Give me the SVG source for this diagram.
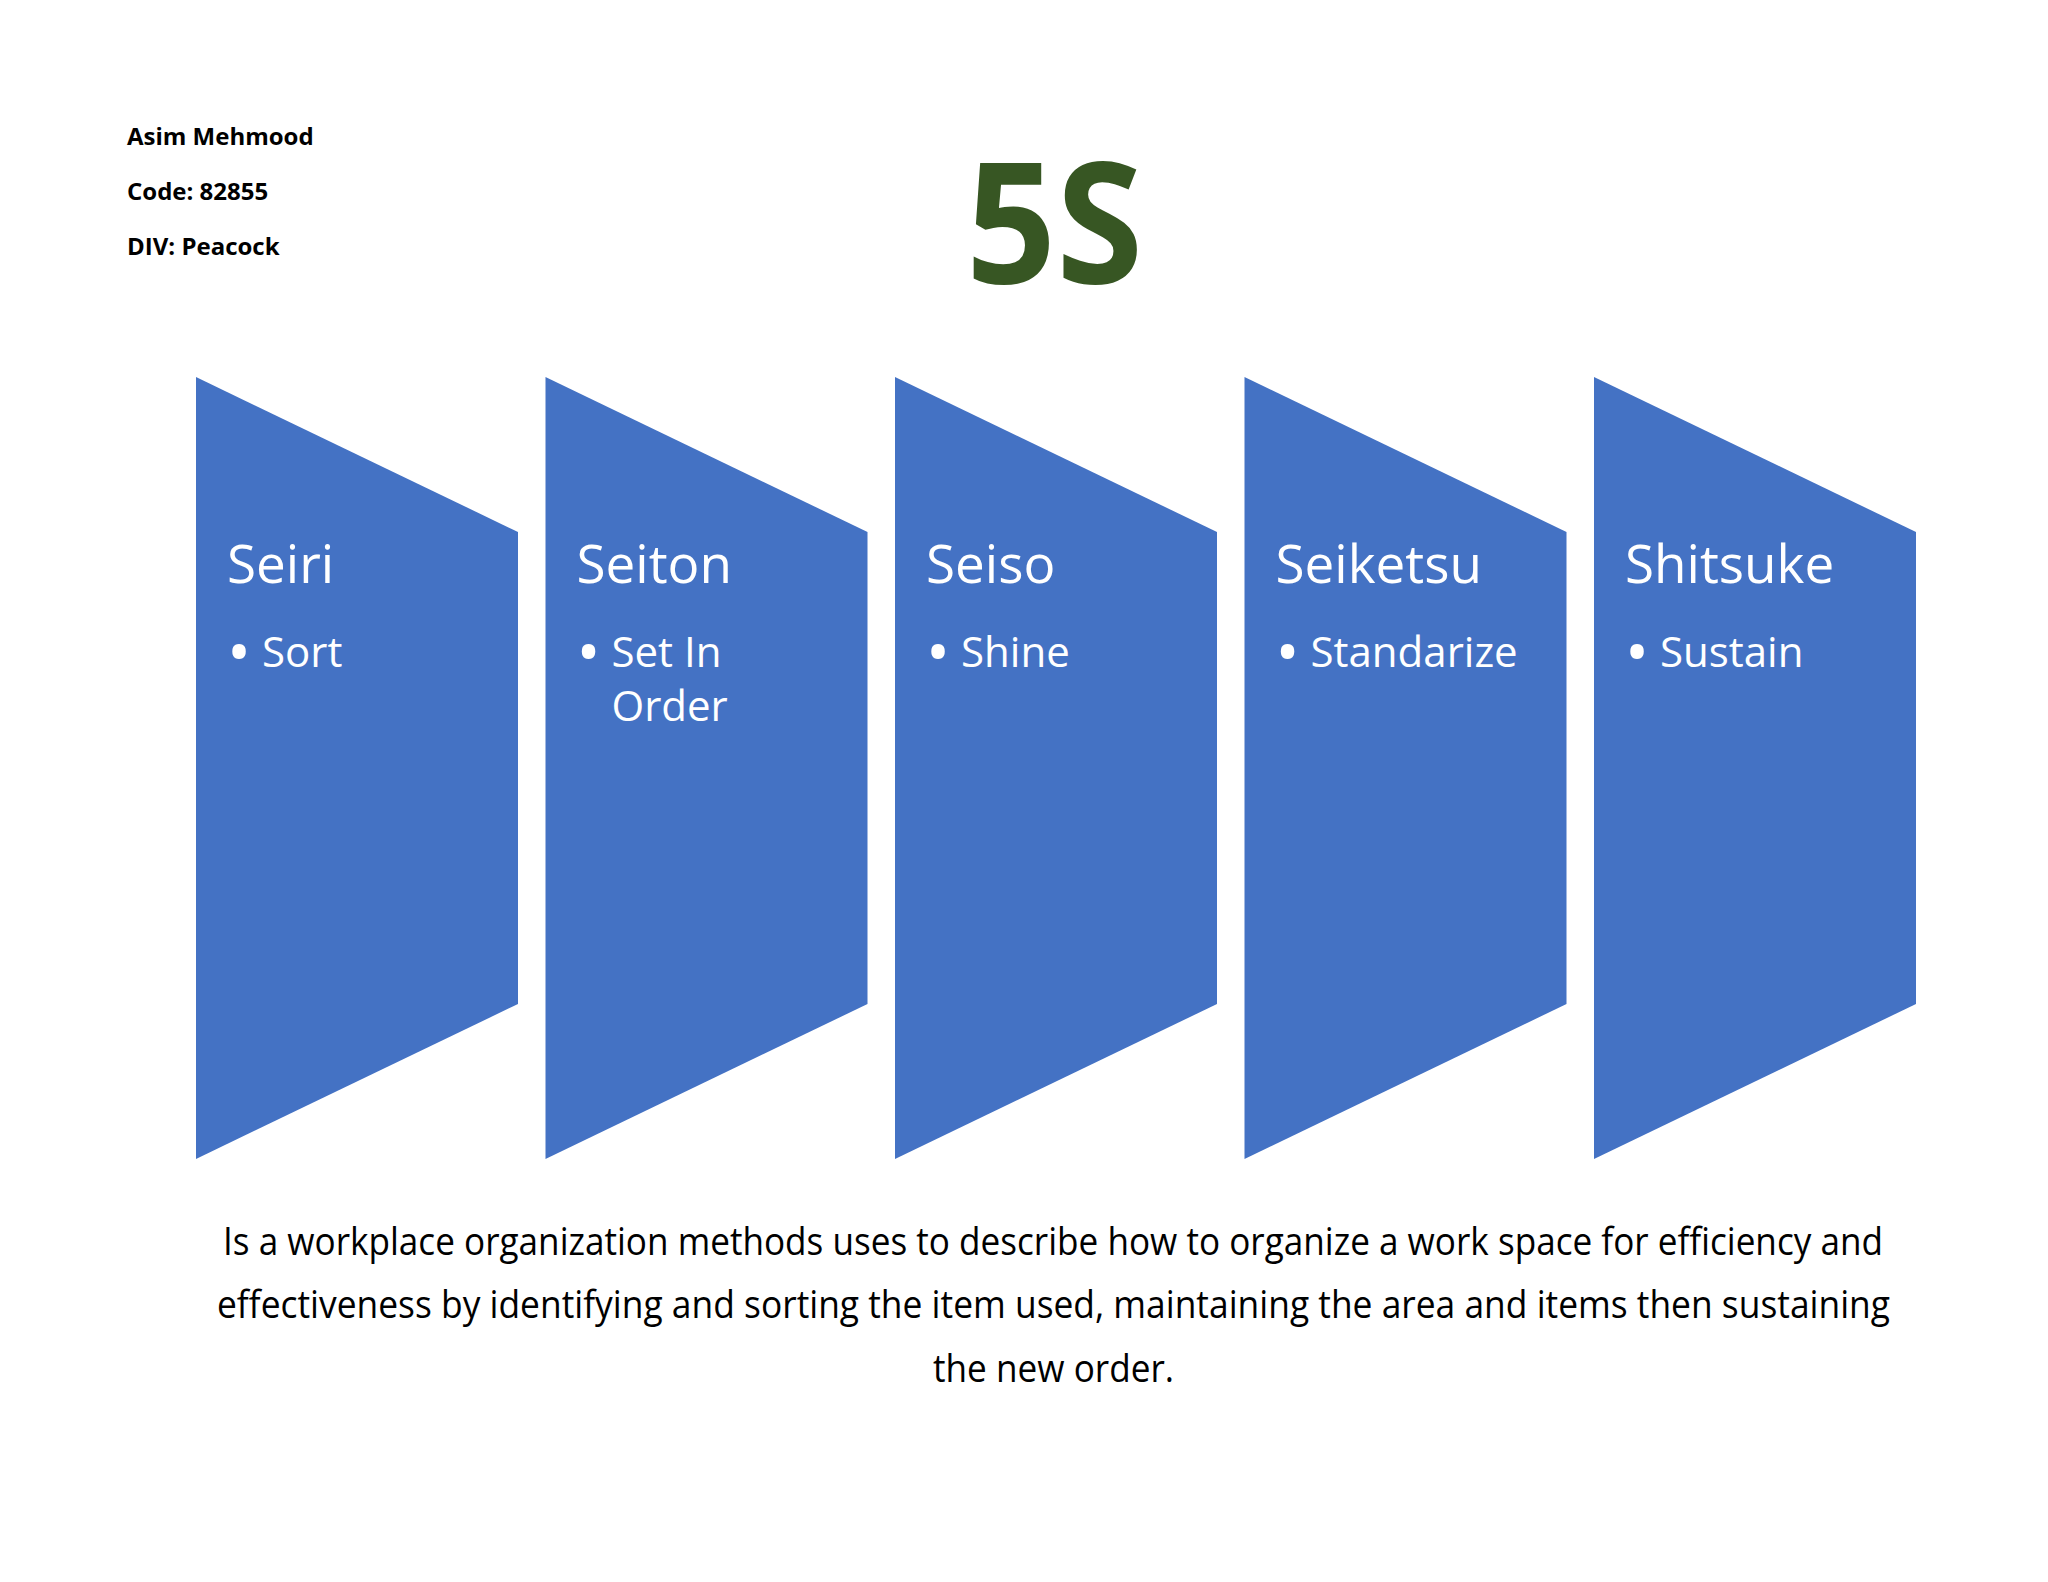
<svg xmlns="http://www.w3.org/2000/svg" width="2048" height="1582" viewBox="0 0 2048 1582">
<style>
.hdr{font-family:"Open Sans","Liberation Sans",sans-serif;font-weight:bold;font-size:24px;fill:#000}
.shape{fill:#4472C4}
.ttl{font-family:"Open Sans","Liberation Sans",sans-serif;font-size:53px;fill:#fff}
.itm{font-family:"Open Sans","Liberation Sans",sans-serif;font-size:42px;fill:#fff}
.blt{font-family:"Open Sans","Liberation Sans",sans-serif;font-size:64px;fill:#fff}
.para{font-family:"Open Sans","Liberation Sans",sans-serif;font-size:38px;font-weight:500;fill:#000;text-anchor:middle}
</style>
<rect x="0" y="0" width="2048" height="1582" fill="#ffffff"/>
<g id="header">
<text class="hdr" x="127" y="145">Asim Mehmood</text>
<text class="hdr" x="127" y="200">Code: 82855</text>
<text class="hdr" x="127" y="255">DIV: Peacock</text>
</g>
<g id="title">
<text x="966" y="283" font-family="'Open Sans','Liberation Sans',sans-serif" font-weight="bold" font-size="168" fill="#375623" textLength="177" lengthAdjust="spacingAndGlyphs">5S</text>
</g>
<g id="node-seiri">
<polygon class="shape" points="196,377 518,532 518,1004 196,1159"/>
<text class="ttl" x="227" y="583">Seiri</text>
<text class="blt" x="227" y="675">•</text>
<text class="itm" x="262" y="667">Sort</text>
</g>
<g id="node-seiton">
<polygon class="shape" points="545.5,377 867.5,532 867.5,1004 545.5,1159"/>
<text class="ttl" x="576.5" y="583">Seiton</text>
<text class="blt" x="576.5" y="675">•</text>
<text class="itm" x="611.5" y="667">Set In</text>
<text class="itm" x="611.5" y="721">Order</text>
</g>
<g id="node-seiso">
<polygon class="shape" points="895,377 1217,532 1217,1004 895,1159"/>
<text class="ttl" x="926" y="583">Seiso</text>
<text class="blt" x="926" y="675">•</text>
<text class="itm" x="961" y="667">Shine</text>
</g>
<g id="node-seiketsu">
<polygon class="shape" points="1244.5,377 1566.5,532 1566.5,1004 1244.5,1159"/>
<text class="ttl" x="1275.5" y="583">Seiketsu</text>
<text class="blt" x="1275.5" y="675">•</text>
<text class="itm" x="1310.5" y="667">Standarize</text>
</g>
<g id="node-shitsuke">
<polygon class="shape" points="1594,377 1916,532 1916,1004 1594,1159"/>
<text class="ttl" x="1625" y="583">Shitsuke</text>
<text class="blt" x="1625" y="675">•</text>
<text class="itm" x="1660" y="667">Sustain</text>
</g>
<g id="connectors"></g>
<g id="description">
<text class="para" x="1053" y="1255" textLength="1660" lengthAdjust="spacingAndGlyphs">Is a workplace organization methods uses to describe how to organize a work space for efficiency and</text>
<text class="para" x="1053.5" y="1318" textLength="1673" lengthAdjust="spacingAndGlyphs">effectiveness by identifying and sorting the item used, maintaining the area and items then sustaining</text>
<text class="para" x="1053.5" y="1382" textLength="241" lengthAdjust="spacingAndGlyphs">the new order.</text>
</g>
</svg>
